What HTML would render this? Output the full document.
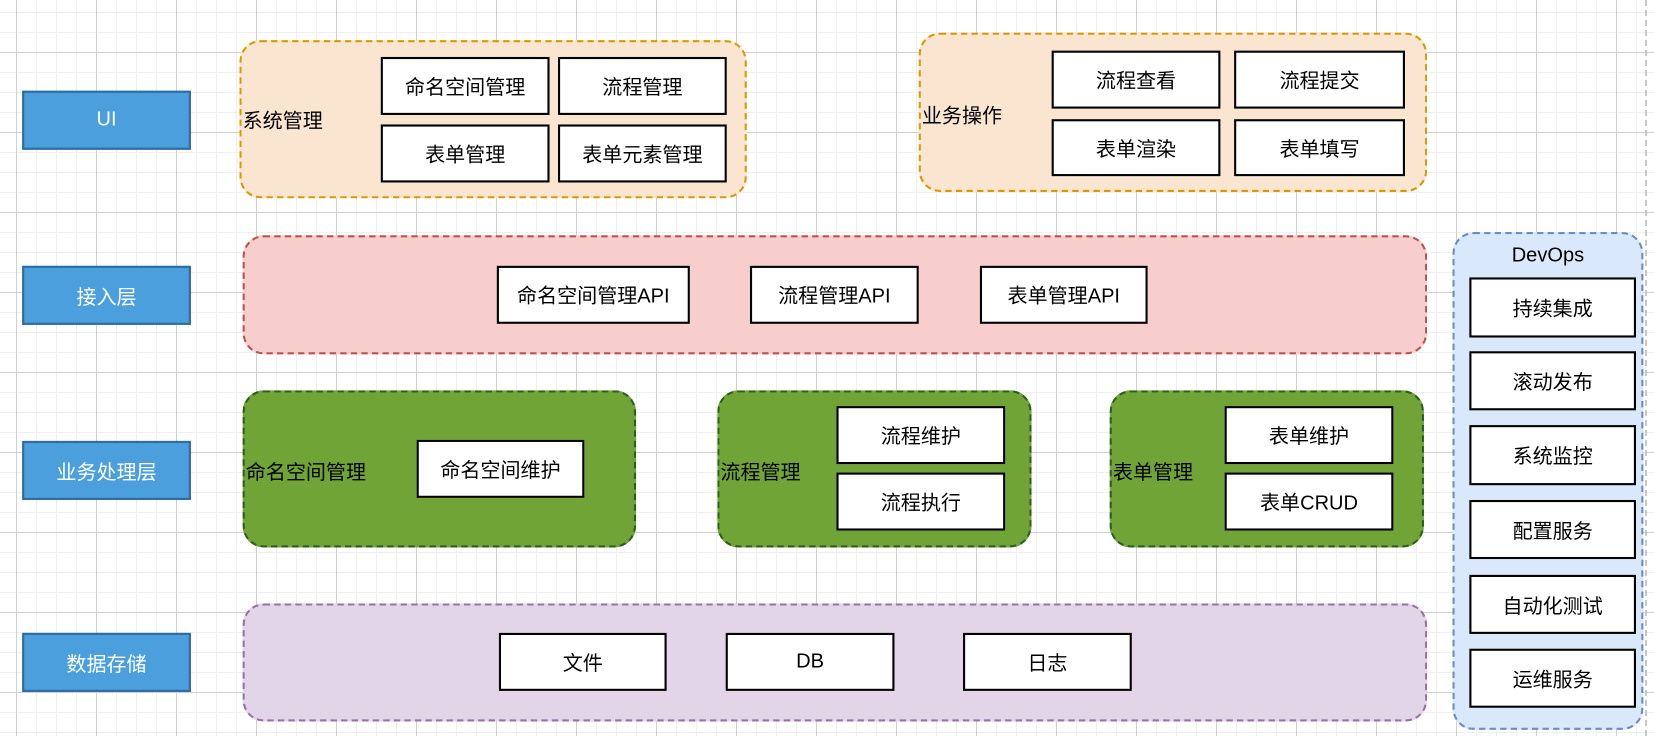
<!DOCTYPE html>
<html><head><meta charset="utf-8">
<style>
html,body{margin:0;padding:0}
body{width:1654px;height:736px;position:relative;overflow:hidden;background:#fff;
font-family:"Liberation Sans","Noto Sans CJK SC",sans-serif;color:#000;
background-image:
linear-gradient(#d0d0d0 1px,transparent 1px),
linear-gradient(90deg,#d0d0d0 1px,transparent 1px),
linear-gradient(#efefef 1px,transparent 1px),
linear-gradient(90deg,#efefef 1px,transparent 1px);
background-size:80px 80px,80px 80px,20px 20px,20px 20px;
background-position:0 -28px,16px 0,0 12px,16px 0;}
#s{position:absolute;left:0;top:0;width:1568px;height:698px;transform:scale(1.0548);transform-origin:0 0;}
.b{position:absolute;box-sizing:border-box;display:flex;align-items:center;justify-content:center;font-size:19px;}
.w{background:#fff;border:2px solid #000;}
.blue{background:#4a9fdc;border:2px solid #2e6da4;color:#fff;}
.g{position:absolute;box-sizing:border-box;border-radius:20px;border:2px dashed;}
.lbl{position:absolute;font-size:19px;}
</style></head><body>
<div style="position:absolute;left:1645px;top:0;height:736px;border-left:2px dashed #c8c8c8"></div>
<div id="s">
<div class="b blue" style="left:21px;top:86px;width:160px;height:56px">UI</div>
<div class="b blue" style="left:21px;top:252px;width:160px;height:56px">接入层</div>
<div class="b blue" style="left:21px;top:418px;width:160px;height:56px">业务处理层</div>
<div class="b blue" style="left:21px;top:600px;width:160px;height:56px">数据存储</div>

<div class="g" style="left:227px;top:38px;width:481px;height:150px;background:#fae6d0;border-color:#d79b00"></div>
<div class="lbl" style="left:230px;top:100px">系统管理</div>
<div class="b w" style="left:361px;top:54px;width:160px;height:55px">命名空间管理</div>
<div class="b w" style="left:529px;top:54px;width:160px;height:55px">流程管理</div>
<div class="b w" style="left:361px;top:118px;width:160px;height:55px">表单管理</div>
<div class="b w" style="left:529px;top:118px;width:160px;height:55px">表单元素管理</div>

<div class="g" style="left:871px;top:31px;width:482px;height:151px;background:#fae6d0;border-color:#d79b00"></div>
<div class="lbl" style="left:874px;top:95px">业务操作</div>
<div class="b w" style="left:997px;top:48px;width:160px;height:55px">流程查看</div>
<div class="b w" style="left:1170px;top:48px;width:162px;height:55px">流程提交</div>
<div class="b w" style="left:997px;top:113px;width:160px;height:54px">表单渲染</div>
<div class="b w" style="left:1170px;top:113px;width:162px;height:54px">表单填写</div>

<div class="g" style="left:230px;top:223px;width:1123px;height:113px;background:#f8cecc;border-color:#b85450"></div>
<div class="b w" style="left:471px;top:252px;width:183px;height:55px">命名空间管理API</div>
<div class="b w" style="left:711px;top:252px;width:160px;height:55px">流程管理API</div>
<div class="b w" style="left:929px;top:252px;width:159px;height:55px">表单管理API</div>

<div class="g" style="left:230px;top:370px;width:373px;height:149px;background:#71a436;border-color:#2d5d1f"></div>
<div class="lbl" style="left:233px;top:433px">命名空间管理</div>
<div class="b w" style="left:395px;top:417px;width:159px;height:55px">命名空间维护</div>

<div class="g" style="left:680px;top:370px;width:298px;height:149px;background:#71a436;border-color:#2d5d1f"></div>
<div class="lbl" style="left:683px;top:433px">流程管理</div>
<div class="b w" style="left:793px;top:385px;width:160px;height:55px">流程维护</div>
<div class="b w" style="left:793px;top:448px;width:160px;height:55px">流程执行</div>

<div class="g" style="left:1052px;top:370px;width:298px;height:149px;background:#71a436;border-color:#2d5d1f"></div>
<div class="lbl" style="left:1055px;top:433px">表单管理</div>
<div class="b w" style="left:1161px;top:385px;width:160px;height:55px">表单维护</div>
<div class="b w" style="left:1161px;top:448px;width:160px;height:55px">表单CRUD</div>

<div class="g" style="left:230px;top:572px;width:1123px;height:112px;background:#e1d5e7;border-color:#9673a6"></div>
<div class="b w" style="left:473px;top:600px;width:159px;height:55px">文件</div>
<div class="b w" style="left:688px;top:600px;width:160px;height:55px">DB</div>
<div class="b w" style="left:913px;top:600px;width:160px;height:55px">日志</div>

<div class="g" style="left:1377px;top:220px;width:181px;height:472px;background:#dae8fc;border-color:#6c8ebf"></div>
<div class="lbl" style="left:1377px;top:232px;width:181px;text-align:center">DevOps</div>
<div class="b w" style="left:1393px;top:263px;width:158px;height:57px">持续集成</div>
<div class="b w" style="left:1393px;top:333px;width:158px;height:56px">滚动发布</div>
<div class="b w" style="left:1393px;top:403px;width:158px;height:57px">系统监控</div>
<div class="b w" style="left:1393px;top:474px;width:158px;height:56px">配置服务</div>
<div class="b w" style="left:1393px;top:545px;width:158px;height:56px">自动化测试</div>
<div class="b w" style="left:1393px;top:615px;width:158px;height:56px">运维服务</div>
</div>
</body></html>
